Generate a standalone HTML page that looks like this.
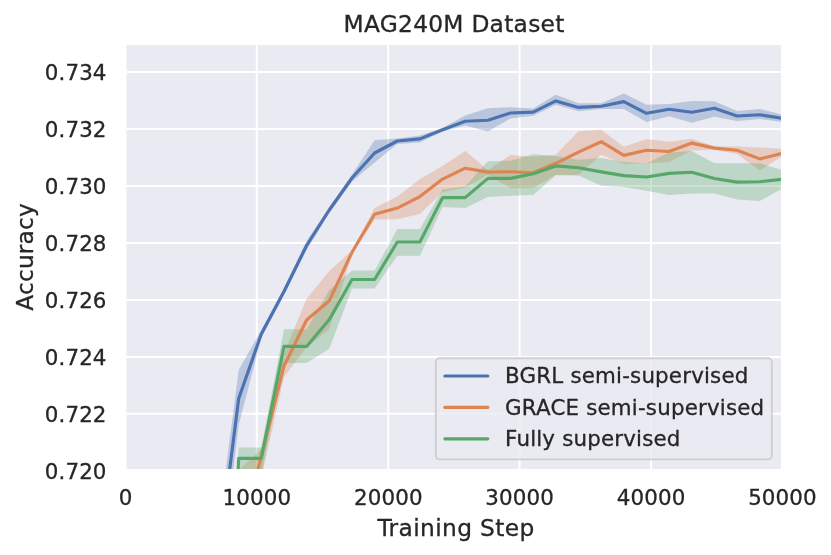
<!DOCTYPE html>
<html lang="en"><head><meta charset="utf-8"><title>MAG240M Dataset</title>
<style>html,body{margin:0;padding:0;background:#fff}svg{display:block}text{font-family:"DejaVu Sans","Liberation Sans",sans-serif;fill:#262626;stroke:#262626;stroke-width:0.3px}</style></head><body>
<svg width="831" height="555" viewBox="0 0 831 555">
<rect width="831" height="555" fill="#ffffff"/>
<defs><clipPath id="ax"><rect x="126.45" y="45.05" width="654.50" height="423.95"/></clipPath></defs>
<rect x="126.45" y="45.05" width="654.50" height="423.95" fill="#eaeaf2"/>
<g clip-path="url(#ax)">
<g stroke="#ffffff" stroke-width="2.0" stroke-linecap="round">
<line x1="125.40" y1="45.05" x2="125.40" y2="469.0"/>
<line x1="256.80" y1="45.05" x2="256.80" y2="469.0"/>
<line x1="388.20" y1="45.05" x2="388.20" y2="469.0"/>
<line x1="519.60" y1="45.05" x2="519.60" y2="469.0"/>
<line x1="651.00" y1="45.05" x2="651.00" y2="469.0"/>
<line x1="782.40" y1="45.05" x2="782.40" y2="469.0"/>
<line x1="126.45" y1="72.05" x2="780.95" y2="72.05"/>
<line x1="126.45" y1="129.02" x2="780.95" y2="129.02"/>
<line x1="126.45" y1="185.99" x2="780.95" y2="185.99"/>
<line x1="126.45" y1="242.96" x2="780.95" y2="242.96"/>
<line x1="126.45" y1="299.93" x2="780.95" y2="299.93"/>
<line x1="126.45" y1="356.90" x2="780.95" y2="356.90"/>
<line x1="126.45" y1="413.87" x2="780.95" y2="413.87"/>
<line x1="126.45" y1="470.84" x2="780.95" y2="470.84"/>
</g>
<polygon points="216.0,545.0 238.7,370.0 261.3,330.0 284.0,288.0 306.6,241.0 329.3,207.0 352.0,174.5 374.6,140.3 397.3,138.5 419.9,135.5 442.6,128.0 465.2,115.5 487.9,108.3 510.5,107.3 533.2,108.5 555.8,94.7 578.5,103.3 601.2,103.3 623.8,93.5 646.5,104.7 669.1,103.9 691.8,101.0 714.4,101.2 737.1,111.0 759.7,108.9 782.4,114.7 782.4,121.9 759.7,119.0 737.1,121.0 714.4,116.8 691.8,122.7 669.1,116.2 646.5,122.0 623.8,109.1 601.2,109.1 578.5,111.3 555.8,104.8 533.2,115.8 510.5,118.4 487.9,131.4 465.2,125.6 442.6,131.5 419.9,142.5 397.3,144.0 374.6,162.5 352.0,181.5 329.3,213.0 306.6,250.0 284.0,295.0 261.3,338.0 238.7,425.0 216.0,615.0" fill="#4c72b0" fill-opacity="0.3"/>
<polygon points="216.0,560.0 238.7,470.0 261.3,449.0 284.0,353.5 306.6,298.7 329.3,271.0 352.0,250.5 374.6,208.1 397.3,196.6 419.9,179.0 442.6,166.1 465.2,150.9 487.9,169.9 510.5,154.9 533.2,156.8 555.8,154.7 578.5,131.3 601.2,129.8 623.8,146.7 646.5,139.1 669.1,141.7 691.8,138.8 714.4,146.2 737.1,146.4 759.7,147.4 782.4,148.9 782.4,156.1 759.7,170.5 737.1,153.9 714.4,149.8 691.8,150.5 669.1,161.9 646.5,163.3 623.8,164.0 601.2,154.7 578.5,174.9 555.8,174.9 533.2,188.0 510.5,188.2 487.9,174.8 465.2,187.4 442.6,192.0 419.9,214.0 397.3,219.3 374.6,219.5 352.0,254.5 329.3,328.9 306.6,347.3 284.0,377.0 261.3,478.0 238.7,600.0 216.0,700.0" fill="#dd8452" fill-opacity="0.3"/>
<polygon points="216.0,880.0 238.7,447.5 261.3,447.5 284.0,329.3 306.6,329.3 329.3,290.0 352.0,270.6 374.6,270.6 397.3,229.0 419.9,229.0 442.6,189.5 465.2,186.5 487.9,161.2 510.5,160.8 533.2,154.3 555.8,156.1 578.5,159.7 601.2,158.0 623.8,161.9 646.5,163.3 669.1,152.5 691.8,151.0 714.4,163.3 737.1,163.3 759.7,163.3 782.4,169.8 782.4,188.6 759.7,200.9 737.1,199.4 714.4,193.6 691.8,193.6 669.1,195.1 646.5,190.8 623.8,187.1 601.2,185.7 578.5,175.6 555.8,175.2 533.2,195.1 510.5,195.7 487.9,197.1 465.2,208.0 442.6,207.0 419.9,255.7 397.3,255.8 374.6,288.4 352.0,288.6 329.3,348.8 306.6,363.0 284.0,363.0 261.3,475.0 238.7,475.0 216.0,920.0" fill="#55a868" fill-opacity="0.3"/>
<polyline points="216.0,577.0 238.7,398.5 261.3,334.0 284.0,291.5 306.6,245.5 329.3,210.0 352.0,178.0 374.6,153.0 397.3,141.0 419.9,138.9 442.6,129.7 465.2,121.3 487.9,120.2 510.5,113.0 533.2,112.1 555.8,100.9 578.5,107.4 601.2,106.2 623.8,101.6 646.5,113.3 669.1,109.3 691.8,112.2 714.4,108.2 737.1,116.0 759.7,114.7 782.4,118.3" fill="none" stroke="#4c72b0" stroke-width="3.15" stroke-linejoin="round" stroke-linecap="round"/>
<polyline points="216.0,640.0 238.7,548.0 261.3,456.0 284.0,366.0 306.6,320.0 329.3,300.7 352.0,252.3 374.6,214.3 397.3,208.1 419.9,196.6 442.6,179.1 465.2,168.2 487.9,172.1 510.5,171.7 533.2,172.8 555.8,163.3 578.5,152.1 601.2,141.7 623.8,155.4 646.5,150.3 669.1,151.5 691.8,143.1 714.4,148.1 737.1,150.2 759.7,158.9 782.4,153.4" fill="none" stroke="#dd8452" stroke-width="3.15" stroke-linejoin="round" stroke-linecap="round"/>
<polyline points="216.0,900.0 238.7,458.3 261.3,458.3 284.0,346.4 306.6,346.4 329.3,319.6 352.0,279.5 374.6,279.5 397.3,242.0 419.9,242.0 442.6,197.6 465.2,197.6 487.9,178.4 510.5,178.4 533.2,173.8 555.8,165.9 578.5,167.7 601.2,171.9 623.8,175.6 646.5,177.0 669.1,173.4 691.8,172.2 714.4,178.5 737.1,182.1 759.7,181.8 782.4,179.2" fill="none" stroke="#55a868" stroke-width="3.15" stroke-linejoin="round" stroke-linecap="round"/>
</g>
<g font-size="21.39px">
<text x="106.6" y="80.25" text-anchor="end" letter-spacing="0.12">0.734</text>
<text x="106.6" y="137.22" text-anchor="end" letter-spacing="0.12">0.732</text>
<text x="106.6" y="194.19" text-anchor="end" letter-spacing="0.12">0.730</text>
<text x="106.6" y="251.16" text-anchor="end" letter-spacing="0.12">0.728</text>
<text x="106.6" y="308.13" text-anchor="end" letter-spacing="0.12">0.726</text>
<text x="106.6" y="365.10" text-anchor="end" letter-spacing="0.12">0.724</text>
<text x="106.6" y="422.07" text-anchor="end" letter-spacing="0.12">0.722</text>
<text x="106.6" y="479.04" text-anchor="end" letter-spacing="0.12">0.720</text>
<text x="125.50" y="505.2" text-anchor="middle" letter-spacing="0.15">0</text>
<text x="256.90" y="505.2" text-anchor="middle" letter-spacing="0.15">10000</text>
<text x="388.30" y="505.2" text-anchor="middle" letter-spacing="0.15">20000</text>
<text x="519.70" y="505.2" text-anchor="middle" letter-spacing="0.15">30000</text>
<text x="651.10" y="505.2" text-anchor="middle" letter-spacing="0.15">40000</text>
<text x="782.50" y="505.2" text-anchor="middle" letter-spacing="0.15">50000</text>
</g>
<text x="343.5" y="31.5" font-size="23.33px" letter-spacing="0.26">MAG240M Dataset</text>
<text x="377.4" y="536.2" font-size="23.33px" letter-spacing="0.36">Training Step</text>
<text transform="translate(32.5,256.9) rotate(-90)" font-size="23.33px" text-anchor="middle" letter-spacing="0.12">Accuracy</text>
<rect x="435.8" y="358.2" width="336.0" height="101.2" rx="3.9" ry="3.9" fill="#eaeaf2" fill-opacity="0.8" stroke="#cccccc" stroke-opacity="0.9" stroke-width="1.9"/>
<line x1="444.85" y1="376.0" x2="487.85" y2="376.0" stroke="#4c72b0" stroke-width="3.15" stroke-linecap="round"/>
<text x="505.1" y="383.3" font-size="21.39px" letter-spacing="0.18">BGRL semi-supervised</text>
<line x1="444.85" y1="407.4" x2="487.85" y2="407.4" stroke="#dd8452" stroke-width="3.15" stroke-linecap="round"/>
<text x="505.1" y="414.6" font-size="21.39px" letter-spacing="0.18">GRACE semi-supervised</text>
<line x1="444.85" y1="438.8" x2="487.85" y2="438.8" stroke="#55a868" stroke-width="3.15" stroke-linecap="round"/>
<text x="505.1" y="446.3" font-size="21.39px" letter-spacing="0.18">Fully supervised</text>
</svg></body></html>
